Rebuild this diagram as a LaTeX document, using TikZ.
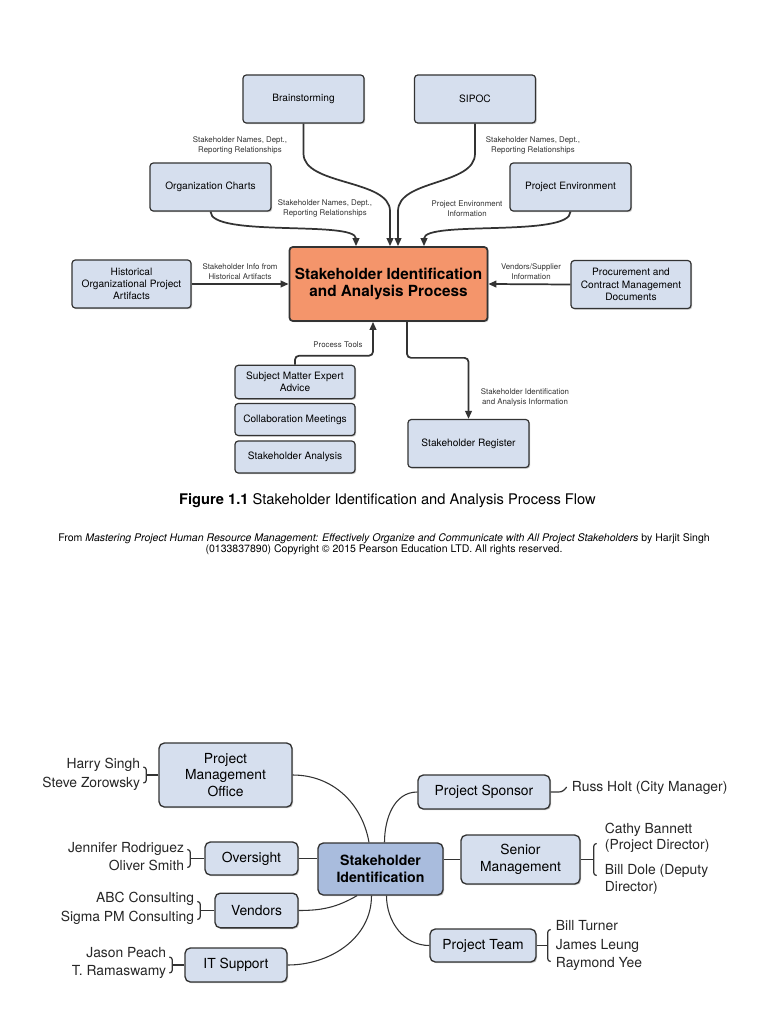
\documentclass[tikz,border=0pt]{standalone}
\usepackage{fontspec}
\setmainfont{TeX Gyre Heros}
\usetikzlibrary{positioning, arrows.meta, shadows}

\definecolor{boxblue}{HTML}{D6DFEE}
\definecolor{coreorange}{HTML}{F4956B}
\definecolor{hubblue}{HTML}{A9BCDD}
\definecolor{linegray}{HTML}{333333}

\tikzset{
  procbox/.style={draw=linegray, line width=0.9pt, rounded corners=2.5pt, fill=boxblue,
    align=center, inner sep=2pt, font=\fontsize{7.6}{9.2}\selectfont,
    drop shadow={shadow xshift=0.9pt, shadow yshift=-0.9pt, opacity=0.45}},
  coreproc/.style={procbox, fill=coreorange, line width=1.3pt,
    font=\fontsize{11.5}{12.8}\selectfont\bfseries, minimum width=148.5pt, minimum height=55.5pt},
  flow/.style={draw=linegray, line width=1.3pt, -{Triangle[length=6pt,width=5pt]}},
  flowlabel/.style={align=center, inner sep=0pt, text=linegray, font=\fontsize{5.9}{7.4}\selectfont},
  rolebox/.style={draw=linegray, line width=1pt, rounded corners=4pt, fill=boxblue,
    align=center, inner sep=2pt, font=\fontsize{10.4}{12.4}\selectfont,
    drop shadow={shadow xshift=0.9pt, shadow yshift=-0.9pt, opacity=0.45}},
  hub/.style={rolebox, fill=hubblue, font=\fontsize{10.6}{13}\selectfont\bfseries},
  tie/.style={draw=linegray, line width=0.8pt},
  brk/.style={draw=linegray, line width=0.9pt},
  names/.style={inner sep=0pt, font=\fontsize{10.4}{14}\selectfont, text=black!85},
}

\begin{document}
\begin{tikzpicture}[x=0.75pt, y=-0.75pt]
    \fill[white] (0,0) rectangle (768,1024);
    \useasboundingbox (0,0) rectangle (768,1024);

    % process flow
    \node[coreproc] (sia) at (388.5,284) {Stakeholder Identification\\and Analysis Process};
    \node[procbox, minimum width=90.75pt, minimum height=36pt] (brain) at (303.5,99) {Brainstorming};
    \node[procbox, minimum width=90.75pt, minimum height=36pt] (sipoc) at (475,99) {SIPOC};
    \node[procbox, minimum width=90.75pt, minimum height=36pt] (orgch) at (210.5,187) {Organization Charts};
    \node[procbox, minimum width=90.75pt, minimum height=36pt] (projenv) at (570.5,187) {Project Environment};
    \node[procbox, minimum width=89.25pt, minimum height=36pt] (histart) at (131.5,284) {Historical\\Organizational Project\\Artifacts};
    \node[procbox, minimum width=90pt, minimum height=36pt] (procure) at (631,284.5) {Procurement and\\Contract Management\\Documents};
    \node[procbox, minimum width=90pt, minimum height=25pt] (sme) at (295,382) {Subject Matter Expert\\Advice};
    \node[procbox, minimum width=90pt, minimum height=24pt] (collab) at (295,419.5) {Collaboration Meetings};
    \node[procbox, minimum width=90pt, minimum height=24pt] (anal) at (295,457) {Stakeholder Analysis};
    \node[procbox, minimum width=90.75pt, minimum height=36pt] (reg) at (468.5,443.5) {Stakeholder Register};

    \draw[flow] (brain.south) -- ++(0,30) .. controls +(0,32) and +(0,-32) .. ([shift={(1.5,-35)}]sia.north) -- ([shift={(1.5,0)}]sia.north);
    \draw[flow] (sipoc.south) -- ++(0,30) .. controls +(0,32) and +(0,-32) .. ([shift={(9.5,-35)}]sia.north) -- ([shift={(9.5,0)}]sia.north);
    \draw[flow] (orgch.south) .. controls +(0,26) and +(0,-26) .. ([shift={(-32.5,0)}]sia.north);
    \draw[flow] (projenv.south) .. controls +(0,26) and +(0,-26) .. ([shift={(35.5,0)}]sia.north);
    \draw[flow] (histart.east) -- (sia.west);
    \draw[flow] (procure.west) -- (sia.east);
    \draw[flow, rounded corners=3pt] (sme.north) -- ++(0,-9) -| ([shift={(-15.5,0)}]sia.south);
    \draw[flow, rounded corners=3pt] ([shift={(18.5,0)}]sia.south) -- ++(0,36) -| (reg.north);

    \node[flowlabel] (lbrain) at (240,145) {Stakeholder Names, Dept.,\\Reporting Relationships};
    \node[flowlabel] (lsipoc) at (533,145) {Stakeholder Names, Dept.,\\Reporting Relationships};
    \node[flowlabel] (lorgch) at (325,208) {Stakeholder Names, Dept.,\\Reporting Relationships};
    \node[flowlabel] (lprojenv) at (467,209) {Project Environment\\Information};
    \node[flowlabel] (lhist) at (240,272) {Stakeholder Info from\\Historical Artifacts};
    \node[flowlabel] (lproc) at (531,272) {Vendors/Supplier\\Information};
    \node[flowlabel] (ltools) at (338,345) {Process Tools};
    \node[flowlabel] (lreg) at (525,397) {Stakeholder Identification\\and Analysis Information};

    \node[inner sep=0pt, font=\fontsize{11}{12}\selectfont] (cap) at (387.5,501)
        {\textbf{Figure 1.1} Stakeholder Identification and Analysis Process Flow};
    \node[inner sep=0pt, align=center, font=\fontsize{7.9}{8}\selectfont] (credit) at (384,544)
        {From \textit{Mastering Project Human Resource Management: Effectively Organize and Communicate with All Project Stakeholders} by Harjit Singh\\(0133837890) Copyright \textcopyright{} 2015 Pearson Education LTD. All rights reserved.};

    % stakeholder map
    \node[hub, minimum width=93.75pt, minimum height=39pt] (stake) at (380.5,869) {Stakeholder\\Identification};
    \node[rolebox, minimum width=99.75pt, minimum height=48pt] (pmo) at (225.5,775) {Project\\Management\\Office};
    \node[rolebox, minimum width=69.75pt, minimum height=24.75pt] (over) at (251.5,858.5) {Oversight};
    \node[rolebox, minimum width=62.25pt, minimum height=26pt] (vend) at (256.5,910.5) {Vendors};
    \node[rolebox, minimum width=76.5pt, minimum height=25.5pt] (itsup) at (236,965) {IT Support};
    \node[rolebox, minimum width=99pt, minimum height=25.5pt] (spons) at (484,792) {Project Sponsor};
    \node[rolebox, minimum width=89.25pt, minimum height=36.75pt] (senior) at (520.5,859.5) {Senior\\Management};
    \node[rolebox, minimum width=79.5pt, minimum height=24.75pt] (team) at (483,945.5) {Project Team};

    \draw[tie] (pmo.east) to[out=0,in=100] ([shift={(-11.5,0)}]stake.north);
    \draw[tie] (over.east) -- (over.east -| stake.west);
    \draw[tie] (vend.east) to[out=0,in=210] ([shift={(-23.5,0)}]stake.south);
    \draw[tie] (itsup.east) to[out=0,in=270] ([shift={(-9,0)}]stake.south);
    \draw[tie] ([shift={(4,0)}]stake.north) to[out=90,in=180] (spons.west);
    \draw[tie] (senior.west) -- (senior.west -| stake.east);
    \draw[tie] ([shift={(6,0)}]stake.south) to[out=270,in=180] (team.west);

    % name brackets
    \draw[brk] (pmo.west) -- ++(-12,0) coordinate (pmob);
    \draw[brk] ([shift={(-3,-8)}]pmob) to[out=0,in=90] ([shift={(0,-5)}]pmob) -- ([shift={(0,5)}]pmob) to[out=270,in=0] ([shift={(-3,8)}]pmob);
    \draw[brk] (over.west) -- ++(-14,0) coordinate (overb);
    \draw[brk] ([shift={(-3,-9)}]overb) to[out=0,in=90] ([shift={(0,-6)}]overb) -- ([shift={(0,6)}]overb) to[out=270,in=0] ([shift={(-3,9)}]overb);
    \draw[brk] (vend.west) -- ++(-14,0) coordinate (vendb);
    \draw[brk] ([shift={(-3,-9)}]vendb) to[out=0,in=90] ([shift={(0,-6)}]vendb) -- ([shift={(0,6)}]vendb) to[out=270,in=0] ([shift={(-3,9)}]vendb);
    \draw[brk] (itsup.west) -- ++(-12,0) coordinate (itsupb);
    \draw[brk] ([shift={(-3,-8)}]itsupb) to[out=0,in=90] ([shift={(0,-5)}]itsupb) -- ([shift={(0,5)}]itsupb) to[out=270,in=0] ([shift={(-3,8)}]itsupb);
    \draw[brk] (spons.east) -- ++(8,0) coordinate (sponsb) to[out=0,in=235] ++(8,-5) coordinate (sponsend);
    \draw[brk] (senior.west -| senior.east) -- ++(13,0) coordinate (seniorb);
    \draw[brk] ([shift={(3,-16)}]seniorb) to[out=180,in=90] ([shift={(0,-13)}]seniorb) -- ([shift={(0,13)}]seniorb) to[out=270,in=180] ([shift={(3,16)}]seniorb);
    \draw[brk] (team.east) -- ++(11,0) coordinate (teamb);
    \draw[brk] ([shift={(3,-16)}]teamb) to[out=180,in=90] ([shift={(0,-13)}]teamb) -- ([shift={(0,13)}]teamb) to[out=270,in=180] ([shift={(3,16)}]teamb);

    \node[names, align=right, anchor=east] (pmonm) at ([shift={(-6,-1)}]pmob) {Harry Singh\\Steve Zorowsky};
    \node[names, align=right, anchor=east] (overnm) at ([shift={(-6,-2)}]overb) {Jennifer Rodriguez\\Oliver Smith};
    \node[names, align=right, anchor=east] (vendnm) at ([shift={(-6,-2)}]vendb) {ABC Consulting\\Sigma PM Consulting};
    \node[names, align=right, anchor=east] (itsupnm) at ([shift={(-6,-2)}]itsupb) {Jason Peach\\T. Ramaswamy};
    \node[names, anchor=west] (sponsnm) at ([shift={(5,1)}]sponsend) {Russ Holt (City Manager)};
    \node[names, align=left, anchor=west, font=\fontsize{10.4}{12.4}\selectfont] (seniornm) at ([shift={(11,-1)}]seniorb) {Cathy Bannett\\(Project Director)\\[6pt]Bill Dole (Deputy\\Director)};
    \node[names, align=left, anchor=west] (teamnm) at ([shift={(8,0)}]teamb) {Bill Turner\\James Leung\\Raymond Yee};
\end{tikzpicture}
\end{document}
